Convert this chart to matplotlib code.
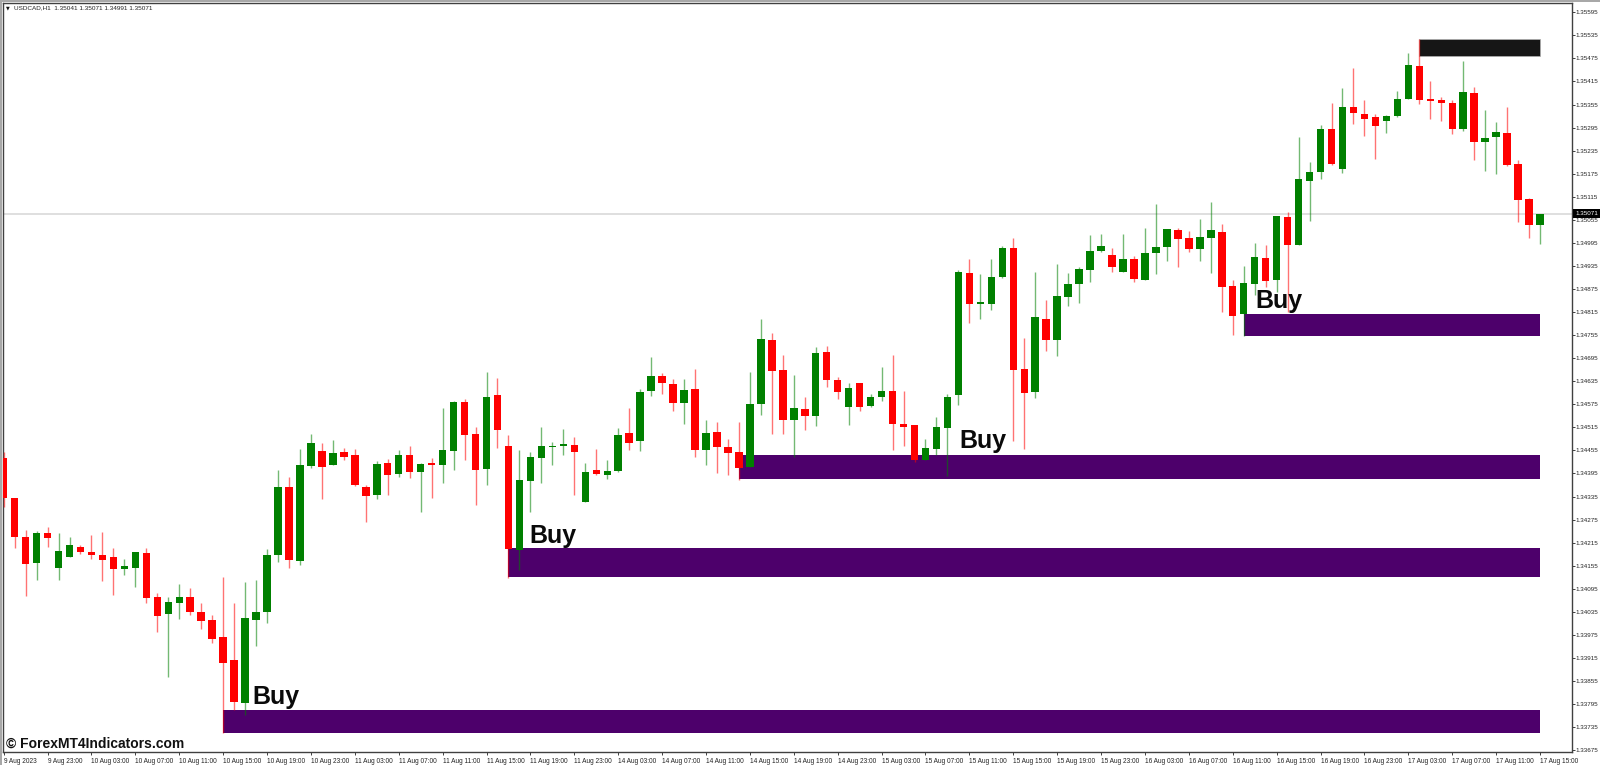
import matplotlib
matplotlib.use("Agg")
import matplotlib.pyplot as plt
from matplotlib.patches import Rectangle

W, H = 1600, 765

# Prices in 1e-5 units (points), one entry per hourly bar
high_pts = [
 134450,134330,134248,134246,134256,134239,134229,134209,134236,134243,
 134200,134173,134191,134200,134083,134073,134107,134096,134059,134027,
 134125,134059,134113,134118,134199,134405,134385,134458,134499,134474,
 134482,134461,134458,134364,134428,134433,134456,134466,134421,134434,
 134566,134583,134590,134517,134660,134644,134496,134457,134450,134517,
 134478,134512,134490,134423,134458,134430,134513,134565,134615,134698,
 134656,134642,134642,134668,134533,134529,134486,134529,134659,134798,
 134760,134704,134650,134594,134724,134727,134645,134630,134631,134601,
 134673,134702,134610,134520,134486,134542,134601,134924,134952,134914,
 134952,134986,135007,134748,134920,134847,134939,134916,134932,135016,
 135019,134982,135018,134960,135034,135097,135031,135034,135026,135056,
 135101,135043,134899,134935,134994,134990,135065,135076,135270,135205,
 135302,135360,135397,135451,135367,135330,135328,135389,135490,135525,
 135416,135375,135367,135467,135401,135340,135310,135349,135210,135111,
 135071]
body_top_pts = [
 134435,134330,134230,134239,134239,134194,134209,134205,134192,134182,
 134177,134154,134191,134189,134074,134060,134073,134074,134035,134013,
 133969,133909,134018,134034,134184,134359,134359,134417,134474,134453,
 134448,134450,134444,134360,134419,134422,134442,134443,134419,134423,
 134455,134580,134580,134499,134594,134599,134466,134378,134438,134467,
 134467,134472,134468,134399,134405,134401,134494,134501,134607,134649,
 134649,134629,134612,134614,134501,134503,134465,134451,134575,134744,
 134742,134665,134566,134563,134709,134711,134639,134618,134631,134594,
 134609,134609,134525,134520,134461,134516,134594,134920,134916,134840,
 134907,134982,134982,134667,134802,134798,134857,134889,134927,134974,
 134987,134964,134952,134953,134969,134985,135031,135029,135008,135010,
 135029,135024,134882,134891,134957,134955,135064,135062,135160,135179,
 135291,135291,135349,135349,135331,135322,135325,135370,135458,135456,
 135369,135367,135358,135388,135385,135269,135283,135281,135199,135108,
 135071]
body_bottom_pts = [
 134330,134230,134159,134163,134227,134149,134178,134192,134182,134171,
 134146,134146,134148,134071,134025,134030,134059,134035,134011,133964,
 133902,133800,133798,134014,134034,134182,134170,134168,134414,134412,
 134418,134439,134364,134337,134339,134391,134393,134398,134398,134418,
 134417,134454,134496,134405,134407,134509,134199,134197,134375,134434,
 134464,134466,134450,134321,134394,134392,134401,134475,134480,134609,
 134631,134579,134579,134455,134457,134463,134449,134409,134412,134575,
 134662,134533,134533,134545,134545,134638,134606,134568,134568,134570,
 134594,134524,134516,134431,134431,134459,134513,134599,134835,134836,
 134836,134907,134665,134604,134606,134743,134743,134854,134888,134925,
 134974,134933,134918,134901,134899,134968,134984,135005,134978,134978,
 135009,134881,134804,134809,134888,134896,134899,134990,134989,135157,
 135180,135199,135187,135332,135317,135299,135312,135324,135369,135368,
 135365,135359,135291,135291,135258,135258,135271,135198,135107,135042,
 135041]
low_pts = [
 134307,134200,134077,134118,134204,134118,134178,134185,134173,134114,
 134080,134132,134100,134057,133982,133866,134016,134028,133991,133955,
 133720,133779,133766,133946,134006,134165,134150,134158,134409,134328,
 134418,134431,134362,134269,134328,134339,134387,134384,134296,134332,
 134371,134404,134431,134314,134364,134462,134124,134145,134295,134371,
 134416,134443,134340,134321,134391,134380,134398,134456,134453,134597,
 134601,134558,134524,134438,134417,134396,134392,134377,134412,134548,
 134498,134499,134439,134507,134518,134620,134589,134520,134557,134568,
 134584,134457,134467,134424,134429,134442,134389,134574,134786,134796,
 134820,134904,134479,134459,134592,134714,134700,134832,134839,134893,
 134970,134920,134918,134892,134898,134914,134948,134933,134972,134948,
 134916,134814,134755,134753,134860,134881,134866,134814,134989,135053,
 135162,135198,135178,135304,135274,135212,135282,135322,135369,135356,
 135317,135313,135278,135287,135211,135183,135174,135196,135050,135007,
 134991]
direction = ("RRRGRGGRRR" "RGGRRGGRRR" "RRGGGGRGGR" "GRRRGRGRGR" "GGRRGRRGGG"
             "GGRGRGGRGG" "RRGRGRRRGG" "RRGRGRRGRG" "GRRRGGGGRG" "GGRRGRGGGG"
             "GRGRGGGRRG" "GRRGGRGRGG" "GRGRRRGGGR" "RRRGRGGRRR" "G")

# Zones: start bar, top price, bottom price (all extend to the last bar)
buy_zone_start = [20, 46, 67, 113]
buy_zone_top = [133780, 134200, 134442, 134810]
buy_zone_bottom = [133721, 134125, 134380, 134754]
sell_zone_start = [129]
sell_zone_top = [135525]
sell_zone_bottom = [135481]

buy_label_bar = [22.7, 47.87, 87.05, 114.05]
buy_label_price = [133795, 134215, 134461, 134826]

x_tick_labels = ["9 Aug 2023", "9 Aug 23:00"]
for day in [10, 11, 14, 15, 16]:
    x_tick_labels += [f"{day} Aug {h:02d}:00" for h in (3, 7, 11, 15, 19, 23)]
x_tick_labels += [f"17 Aug {h:02d}:00" for h in (3, 7, 11, 15)]

y_tick_pts = [133675 + 60 * k for k in range(33)]
last_price = 135071

# ---------------------------------------------------------------------------
fig = plt.figure(figsize=(W / 100, H / 100), dpi=100, facecolor="white")
L, R, T, B = 3.0, 1571.7, 2.5, 752.0
ax = fig.add_axes([L / W, 1 - B / H, (R - L) / W, (B - T) / H])
BAR_STEP = 10.974
ax.set_xlim((L - 3.67) / BAR_STEP, (R - 3.67) / BAR_STEP)
ax.set_ylim(133670.3, 135620.5)
ax.set_facecolor("white")

for s in ax.spines.values():
    s.set_color("#404040")
    s.set_linewidth(1.0)

last_bar = len(high_pts) - 1
ax.axhline(last_price, color="#dcdcdc", lw=1.3, zorder=1)

for start, top, bot in zip(buy_zone_start, buy_zone_top, buy_zone_bottom):
    ax.add_patch(Rectangle((start, bot), last_bar - start, top - bot,
                           facecolor="#4d006b", edgecolor="none", zorder=2))
for start, top, bot in zip(sell_zone_start, sell_zone_top, sell_zone_bottom):
    ax.add_patch(Rectangle((start, bot), last_bar - start, top - bot,
                           facecolor="#161616", edgecolor="#b0b0b0", lw=0.5, zorder=2))

GREEN, RED = "#008000", "#ff0000"
for i, d in enumerate(direction):
    c = GREEN if d == "G" else RED
    ax.vlines(i, low_pts[i], high_pts[i], colors=c, lw=1.0, alpha=0.55, zorder=3)
    h = max(body_top_pts[i] - body_bottom_pts[i], 3)
    ax.bar(i, h, bottom=body_bottom_pts[i], width=0.68, color=c, linewidth=0, zorder=4)

for b, p in zip(buy_label_bar, buy_label_price):
    ax.text(b, p, "Buy", fontsize=18, fontweight="bold", family="Liberation Sans",
            color="#0a0a0a", va="baseline", ha="left", zorder=6)

ax.set_xticks(range(0, len(high_pts), 4))
ax.set_xticklabels(x_tick_labels, ha="left", fontsize=4.7, family="Liberation Sans", color="#222222")
ax.tick_params(axis="x", length=2.5, width=0.7, pad=2, color="#404040")
ax.yaxis.tick_right()
ax.set_yticks(y_tick_pts)
ax.set_yticklabels([f"{p / 1e5:.5f}" for p in y_tick_pts], fontsize=4.5,
                   family="Liberation Sans", color="#222222")
ax.tick_params(axis="y", length=2, width=0.7, pad=1, color="#404040")

ax.text(1.0022, last_price, f"{last_price / 1e5:.5f}", transform=ax.get_yaxis_transform(),
        fontsize=4.5, family="Liberation Sans", color="white", va="center", ha="left",
        zorder=10, clip_on=False,
        bbox=dict(facecolor="black", edgecolor="none", pad=1.3))

def fx(px): return px / W
def fy(py): return 1 - py / H

fig.text(fx(14), fy(7.7), "USDCAD,H1  1.35041 1.35071 1.34991 1.35071", fontsize=4.6,
         family="Liberation Sans", color="#222222", va="center", ha="left")
fig.text(fx(8.3), fy(7.7), "\u25BC", fontsize=3.5, color="#111111", va="center", ha="center")
fig.text(fx(6), fy(747.7), "\u00A9 ForexMT4Indicators.com", fontsize=10.0, fontweight="bold",
         family="Liberation Sans", color="#111111", va="baseline", ha="left")

# Terminal window chrome: grey band along the left and top edges
fig.add_artist(Rectangle((0, 0), 2.4 / W, 1, transform=fig.transFigure, facecolor="#a8a8a8", edgecolor="none"))
fig.add_artist(Rectangle((0, 1 - 2 / H), 1, 2 / H, transform=fig.transFigure, facecolor="#a8a8a8", edgecolor="none"))

fig.savefig("out.png", dpi=100, facecolor="white")
